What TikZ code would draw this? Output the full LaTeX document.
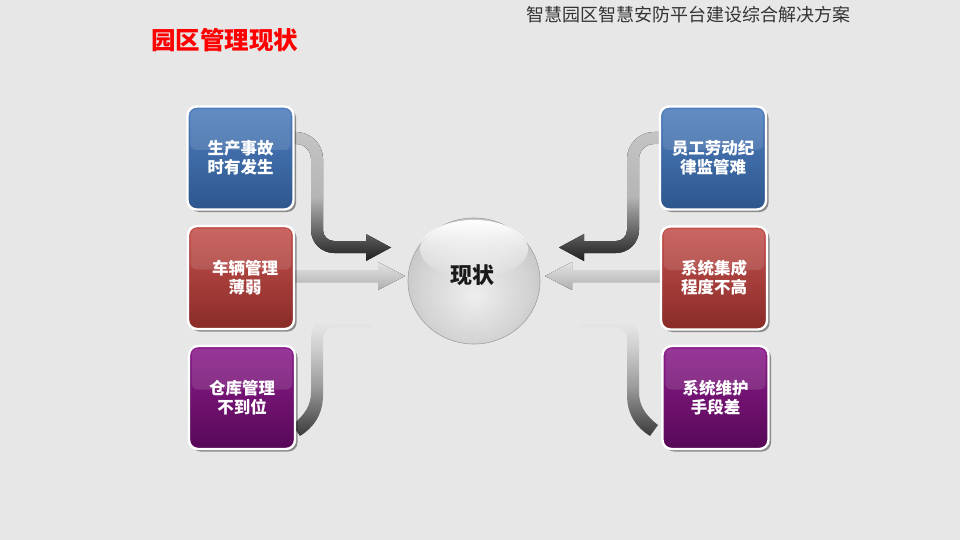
\documentclass[tikz,border=0pt]{standalone}
\usepackage{fontspec}
\setmainfont{Noto Sans CJK SC}
\usetikzlibrary{shapes.geometric,shadows,fadings}
\definecolor{bg}{HTML}{E7E7E7}
\definecolor{blueT}{HTML}{4E7EBE}
\definecolor{blueB}{HTML}{2D568D}
\definecolor{redT}{HTML}{C5524E}
\definecolor{redB}{HTML}{892B28}
\definecolor{purT}{HTML}{8B1C8B}
\definecolor{purB}{HTML}{570857}
\definecolor{sA}{HTML}{EEEEEE}
\definecolor{sB}{HTML}{D4D4D4}
\definecolor{sC}{HTML}{B0B0B0}
\definecolor{sD}{HTML}{868686}
\definecolor{dk}{HTML}{3A3A3A}
\definecolor{md}{HTML}{9A9A9A}
\definecolor{lt}{HTML}{D0D0D0}
\pgfdeclareradialshading{sph}{\pgfpoint{0bp}{-6bp}}{color(0bp)=(sA); color(20bp)=(sB); color(40bp)=(sC); color(50bp)=(sD)}
\pgfdeclareverticalshading{fadeshade}{100bp}{color(0bp)=(dk); color(25bp)=(dk); color(45bp)=(md); color(62bp)=(lt); color(72bp)=(bg); color(100bp)=(bg)}
\tikzset{
  card/.style={draw=white, line width=2.4pt, rounded corners=9pt,
    minimum width=106pt, minimum height=103pt, inner sep=0pt,
    text=white, align=center, font=\bfseries\fontsize{16.5}{19}\selectfont,
    drop shadow={shadow xshift=2.5pt, shadow yshift=-2.5pt, opacity=0.4, fill=black}},
  bluecard/.style={card, top color=blueT, bottom color=blueB},
  redcard/.style={card, top color=redT, bottom color=redB},
  purcard/.style={card, top color=purT, bottom color=purB},
  gloss/.style={white, fill opacity=0.12, rounded corners=6pt},
  bendarrow/.style={top color=bg!85!black, bottom color=black!88, middle color=gray!58},
  flatarrow/.style={top color=gray!22, bottom color=gray!62},
  fadeband/.style={shading=fadeshade}
}
\begin{document}
\begin{tikzpicture}[x=1pt,y=-1pt]
\fill[bg] (0,0) rectangle (960,540);
\useasboundingbox (0,0) rectangle (960,540);

% header and title
\node[anchor=west, inner sep=0pt, text=black!80, font=\fontsize{18}{18}\selectfont] (header) at (526,15) {智慧园区智慧安防平台建设综合解决方案};
\node[anchor=west, inner sep=0pt, text=red, font=\bfseries\fontsize{24.5}{24.5}\selectfont] (title) at (151,40) {园区管理现状};

% connector shapes, left side and mirrored right side
\foreach \sx/\sh in {1/0, -1/950}{
\begin{scope}[shift={(\sh,0)}, xscale=\sx]
  \fill[bendarrow] (288,132) -- (296,132) .. controls (310.9,132) and (323,144.1) .. (323,159)
    -- (323,230) .. controls (323,236.1) and (327.9,241) .. (334,241)
    -- (366,241) -- (366,234) -- (391,247.5) -- (366,261) -- (366,253) -- (334,253)
    .. controls (321.3,253) and (311,242.7) .. (311,230)
    -- (311,159) .. controls (311,150.7) and (304.3,144) .. (296,144) -- (288,144) -- cycle;
  \fill[flatarrow] (288,270) -- (378,270) -- (378,262) -- (405,276) -- (378,290) -- (378,282) -- (288,282) -- cycle;
  \shade[fadeband] (323,340) -- (323,395) .. controls (323,415) and (313,428) .. (300,436)
    -- (292,425) .. controls (305,415) and (311,405) .. (311,392)
    -- (311,340) .. controls (311,325) and (320,315) .. (335,315) -- (372,315) -- (372,327) -- (335,327)
    .. controls (328,327) and (323,332) .. (323,340) -- cycle;
\end{scope}}

% boxes
\node[bluecard] (b1) at (240.5,158) {生产事故\\时有发生};
\node[redcard]  (b2) at (241,277.5) {\hspace*{8pt}车辆管理\\\hspace*{8pt}薄弱};
\node[purcard]  (b3) at (242,397.5) {仓库管理\\不到位};
\node[bluecard] (r1) at (713,158) {员工劳动纪\\律监管难};
\node[redcard]  (r2) at (714,278) {系统集成\\程度不高};
\node[purcard]  (r3) at (715.5,397.5) {系统维护\\手段差};
\foreach \b in {b1,b2,b3,r1,r2,r3}{
  \fill[gloss] ([xshift=4pt,yshift=-4pt]\b.north west) rectangle ([xshift=-4pt,yshift=8pt]\b.east);
}

% sphere
\node[ellipse, shade, shading=sph, draw=gray!75, line width=0.6pt, minimum width=132pt, minimum height=126pt, inner sep=0pt] (sph) at (474,281) {};
\fill[white, path fading=south] (474,249) ellipse [x radius=54, y radius=29];
\node[inner sep=0pt, text=black!90, font=\bfseries\fontsize{22}{22}\selectfont] (lbl) at (472,275) {现状};
\end{tikzpicture}
\end{document}
